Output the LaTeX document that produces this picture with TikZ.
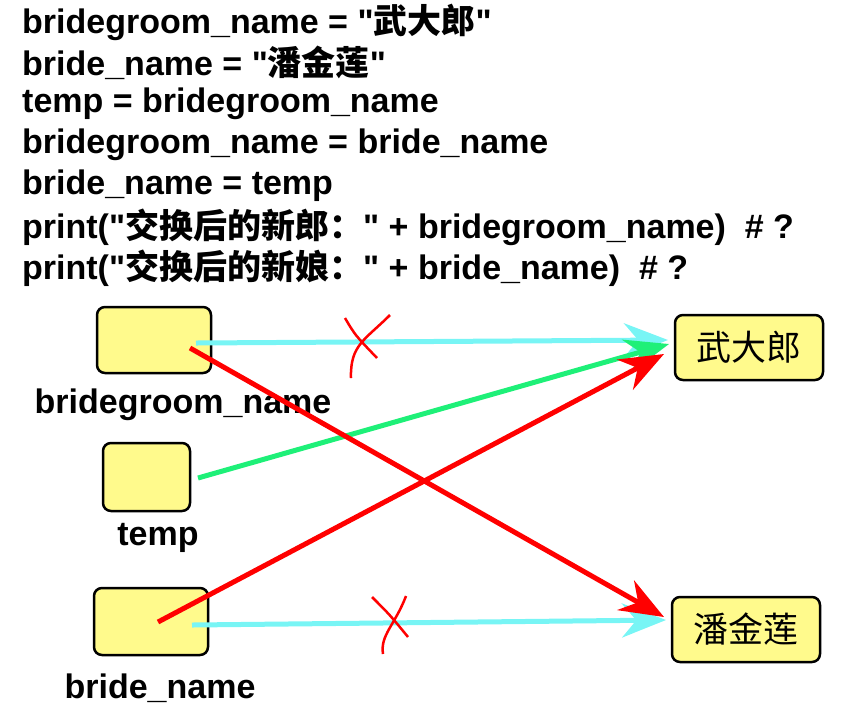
\documentclass[tikz,border=0pt]{standalone}
\usepackage{fontspec}
\setmainfont{Liberation Sans}[Ligatures=TeXOff]
\newfontfamily\cjk{Noto Sans CJK SC}
\usetikzlibrary{arrows.meta}
\definecolor{boxy}{RGB}{255,250,140}
\definecolor{cy}{RGB}{120,245,245}
\definecolor{gr}{RGB}{30,240,120}
\definecolor{rd}{RGB}{255,0,0}
\newcommand{\qq}{\symbol{34}}
\tikzset{
  var/.style={draw=black,line width=2.5pt,fill=boxy,rounded corners=8pt,minimum width=#1,minimum height=66pt,inner sep=0pt},
  val/.style={draw=black,line width=2.5pt,fill=boxy,rounded corners=8pt,minimum width=148pt,minimum height=65pt,inner sep=0pt,font=\cjk\fontsize{35}{38}\selectfont},
  lbl/.style={font=\bfseries\fontsize{34}{36}\selectfont},
  code/.style={font=\bfseries\fontsize{34}{36}\selectfont,anchor=west,inner sep=0pt},
  arr/.style={line width=5pt,-{Stealth[length=44pt,width=34pt]}},
  cross/.style={draw=rd,line width=2.5pt}
}
\begin{document}
\begin{tikzpicture}[x=1pt,y=-1pt]
\useasboundingbox (0,0) rectangle (866,716);
\node[code] (l1) at (22,22) {bridegroom\_name = \qq{\cjk 武大郎}\qq};
\node[code] (l2) at (22,63) {bride\_name = \qq{\cjk 潘金莲}\qq};
\node[code] (l3) at (22,104) {temp = bridegroom\_name};
\node[code] (l4) at (22,145) {bridegroom\_name = bride\_name};
\node[code] (l5) at (22,186) {bride\_name = temp};
\node[code] (l6) at (22,227) {print(\qq{\cjk 交换后的新郎：}\qq\ + bridegroom\_name)\ \ \# ?};
\node[code] (l7) at (22,268) {print(\qq{\cjk 交换后的新娘：}\qq\ + bride\_name)\ \ \# ?};

\node[var=114pt] (bg) at (154,340) {};
\node[var=87pt,minimum height=68pt] (tp) at (146.5,477) {};
\node[var=114pt,minimum height=67pt] (bd) at (151,621.5) {};
\node[lbl] (bgl) at (183,405) {bridegroom\_name};
\node[lbl] (tpl) at (158,538) {temp};
\node[lbl] (bdl) at (160,688) {bride\_name};
\node[val] (w) at (749,347.5) {武大郎};
\node[val] (p) at (746,629.5) {潘金莲};

\coordinate (a1) at (196,343); \coordinate (b1) at (668,340);
\coordinate (a2) at (190,348); \coordinate (b2) at (664,617);
\coordinate (a3) at (198,478); \coordinate (b3) at (669,344);
\coordinate (a4) at (158,622); \coordinate (b4) at (664,354);
\coordinate (a5) at (192,625); \coordinate (b5) at (666,620);

\draw[arr,cy] (a1) -- (b1);
\draw[arr,cy] (a5) -- (b5);
\draw[arr,gr] (a3) -- (b3);
\draw[arr,rd] (a2) -- (b2);
\draw[arr,rd] (a4) -- (b4);

\draw[cross] (345,318) .. controls (355,335) .. (377,358);
\draw[cross] (390,315) .. controls (365,340) and (350,345) .. (351,378);
\draw[cross] (372,597) .. controls (390,615) .. (408,637);
\draw[cross] (406,596) .. controls (395,625) and (380,635) .. (383,654);
\end{tikzpicture}
\end{document}
